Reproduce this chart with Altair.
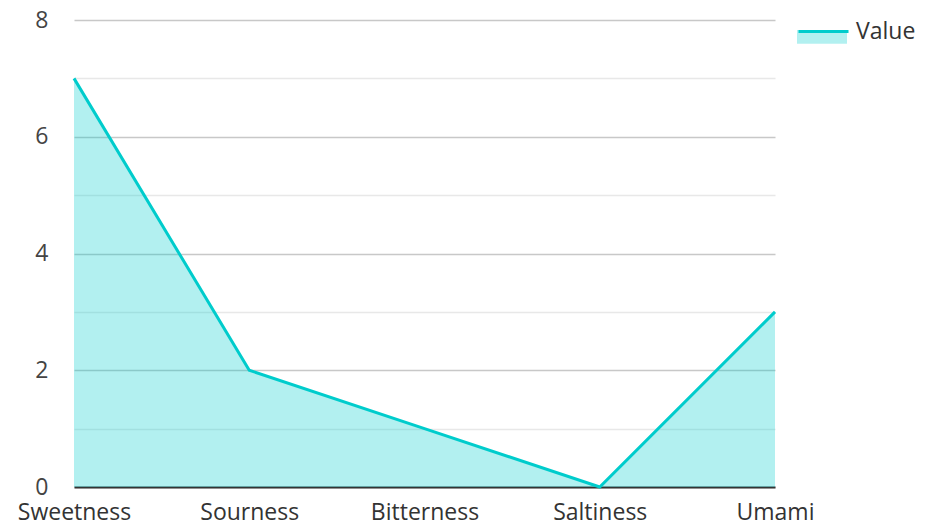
import altair as alt
import pandas as pd

categories = ["Sweetness", "Sourness", "Bitterness", "Saltiness", "Umami"]
values = [7, 2, 1, 0, 3]
series_name = "Value"

df = pd.DataFrame({
    "taste": categories,
    "value": values,
    "series": [series_name] * len(categories),
    "band": [series_name] * len(categories),
})

FONT = "Open Sans"
TEAL = "#00cccc"
FS = 23

x = alt.X(
    "taste:N",
    sort=categories,
    scale=alt.Scale(type="point", padding=0),
    axis=alt.Axis(
        title=None, labelAngle=0, labelFontSize=FS, labelColor="#333333",
        labelPadding=14, domainColor="#333333", domainWidth=2, ticks=False,
        grid=False, labelFont=FONT,
    ),
)
y = alt.Y(
    "value:Q",
    scale=alt.Scale(domain=[0, 8], nice=False),
    axis=alt.Axis(
        title=None, values=list(range(9)),
        labelExpr="datum.value % 2 == 0 ? datum.label : ''",
        domain=False, ticks=False, labelFontSize=FS, labelColor="#444444",
        labelFont=FONT, labelPadding=26,
        gridColor={"condition": {"test": "datum.value % 2 == 0", "value": "#c8c8c8"}, "value": "#e8e8e8"},
        gridWidth=1.5,
    ),
)

LX, LY = 723, -15

area = alt.Chart(df).mark_area(opacity=0.3).encode(
    x=x, y=y,
    fill=alt.Fill(
        "band:N", scale=alt.Scale(range=[TEAL]),
        legend=alt.Legend(
            title=None, orient="none", legendX=LX, legendY=LY, padding=0,
            symbolType="M-1,0H1V0.55H-1Z", symbolSize=2500, symbolOpacity=0.3,
            symbolStrokeWidth=0, labelExpr="''", labelFontSize=FS, labelOffset=6,
        ),
    ),
)

line = alt.Chart(df).mark_line(strokeWidth=3).encode(
    x=x, y=y,
    stroke=alt.Stroke(
        "series:N", scale=alt.Scale(range=[TEAL]),
        legend=alt.Legend(
            title=None, orient="none", legendX=LX, legendY=LY, padding=0,
            symbolType="stroke", symbolSize=2500, symbolStrokeWidth=3,
            labelFontSize=FS, labelOffset=6, labelFont=FONT, labelColor="#333333",
        ),
    ),
)

chart = alt.layer(area, line).resolve_scale(fill="independent", stroke="independent").properties(
    width=701, height=467,
    autosize=alt.AutoSizeParams(type="none"),
    padding={"left": 66, "top": 12, "right": 143, "bottom": 33},
).configure_view(stroke=None)

chart.save("out.html", embed_options={"renderer": "svg", "actions": False})
